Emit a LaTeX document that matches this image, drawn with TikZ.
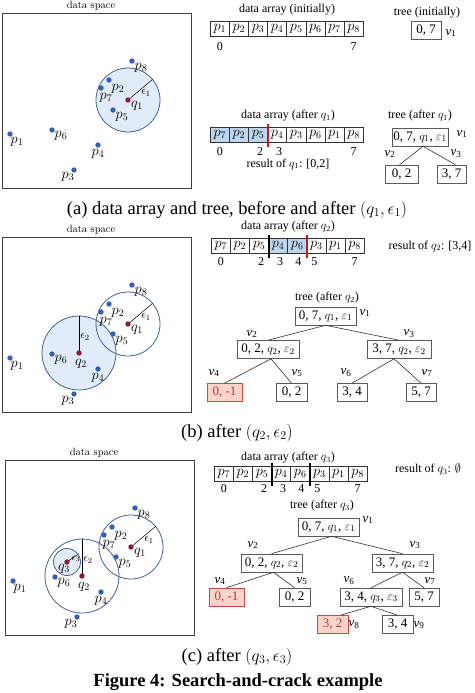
\documentclass[tikz,border=0pt]{standalone}
\usepackage{fontspec}
\setmainfont{Liberation Serif}
\usetikzlibrary{calc}
\definecolor{dotblue}{RGB}{50,95,185}
\definecolor{circfill}{RGB}{226,236,248}
\definecolor{circline}{RGB}{70,95,150}
\definecolor{qred}{RGB}{140,25,55}
\definecolor{cellblue}{RGB}{190,213,238}
\definecolor{redfill}{RGB}{250,212,202}
\definecolor{redline}{RGB}{205,70,70}
\definecolor{cutred}{RGB}{200,25,25}
\definecolor{boxgray}{RGB}{90,90,90}
\newcommand\myfs[1]{\fontsize{#1}{#1}\selectfont}
\newcommand\vv[1]{\textit{v}\textsubscript{\upshape #1}}
\tikzset{
  ptdot/.style={circle, fill=dotblue, inner sep=0pt, minimum size=5.4pt},
  qdot/.style={circle, fill=qred, inner sep=0pt, minimum size=5.4pt},
  mlab/.style={inner sep=0pt, font=\myfs{14.5}},
  elab/.style={inner sep=0pt, font=\myfs{12}},
  spacebox/.style={draw=black!75, line width=0.7pt},
  ring/.style={draw=circline, line width=0.8pt},
  ringfill/.style={ring, fill=circfill},
  radline/.style={draw=black, line width=0.5pt},
  head/.style={inner sep=0pt, font=\myfs{12}},
  dshead/.style={inner sep=0pt, font=\fontfamily{lmr}\myfs{10.5}},
  cell/.style={draw=black!80, line width=0.6pt, minimum width=19.1pt, minimum height=15pt, inner sep=0pt, font=\myfs{14}},
  plain/.style={},
  bluecell/.style={fill=cellblue},
  idx/.style={inner sep=0pt, font=\myfs{12}},
  tbox/.style={draw=boxgray, line width=0.6pt, inner sep=0pt, minimum height=18pt, font=\myfs{13}},
  redbox/.style={tbox, draw=redline, fill=redfill, text=redline!85!black},
  vlab/.style={inner sep=0pt, font=\myfs{13}},
  edge/.style={draw=black!80, line width=0.6pt},
  cutline/.style={line width=1.4pt},
  captext/.style={inner sep=0pt, font=\myfs{18.5}},
}
% array: #1 prefix, #2 left, #3 top, #4 list label/style
\newcommand\myarray[4]{%
  \foreach \lab/\sty [count=\i] in {#4} {
    \node[cell, \sty, anchor=north west] (#1\i) at ({#2+(\i-1)*19.1},#3) {$\lab$};
  }%
}
\newcommand\dbox{%
  \draw[spacebox] (2,13) rectangle (191,188);
  \node[dshead] (dslab) at (91,6) {data space};
}
\newcommand\dpts{%
  \foreach \n/\x/\y/\lx/\ly in {1/10/134/17/142, 2/109/80/118/89, 3/74/170/68/177, 4/98/145/98/154, 5/113/110/122/117, 6/52/130/61/136, 7/101/88/106/98, 8/132/61/141/68} {
    \node[ptdot] (p\n) at (\x,\y) {};
    \node[mlab] (lp\n) at (\lx,\ly) {$p_{\n}$};
  }%
}
\begin{document}
\begin{tikzpicture}[x=1pt,y=-1pt]
\useasboundingbox (0,0) rectangle (474,693);
% ================= panel (a) =================
\begin{scope}[name prefix=a-]
  \dbox
  \coordinate (c1) at (128,100);
  \draw[ringfill] (c1) circle[radius=32];
  \coordinate (e1) at ($(c1)+(-40:32)$);
  \draw[radline] (c1) -- (e1);
  \dpts
  \node[qdot] (q1) at (c1) {};
  \node[mlab] (lq1) at (137,106) {$q_1$};
  \node[elab] (le1) at (146,93) {$\epsilon_1$};
\end{scope}
% arrays (a)
\node[head] (ha1) at (287,10) {data array (initially)};
\myarray{aa}{210}{21}{p_1/plain,p_2/plain,p_3/plain,p_4/plain,p_5/plain,p_6/plain,p_7/plain,p_8/plain}
\node[idx] (aai0) at (aa1 |- 0,47) {0};
\node[idx] (aai7) at (aa8 |- 0,47) {7};
\node[head] (ht1) at (427,13) {tree (initially)};
\node[tbox, minimum width=30pt] (t0) at (426,30.5) {0, 7};
\node[vlab] (t0v) at (451,33) {\vv{1}};

\node[head] (ha2) at (288,116) {data array (after $q_1$)};
\myarray{ab}{210}{127}{p_7/bluecell,p_2/bluecell,p_5/bluecell,p_4/plain,p_3/plain,p_6/plain,p_1/plain,p_8/plain}
\draw[cutline, cutred] ([yshift=3pt]ab3.north east) -- ([yshift=-4pt]ab3.south east);
\node[idx] (abi0) at (ab1 |- 0,152) {0};
\node[idx] (abi2) at ([xshift=2pt]ab3 |- 0,152) {2};
\node[idx] (abi3) at ([xshift=2pt]ab4 |- 0,152) {3};
\node[idx] (abi7) at (ab8 |- 0,152) {7};
\node[head] (res1) at (288,164) {result of $q_1$: [0,2]};

\node[head] (ht2) at (420,116) {tree (after $q_1$)};
\node[tbox, minimum width=56pt] (ta1) at (420,137) {0, 7, $q_1$, $\varepsilon_1$};
\node[tbox, minimum width=33pt] (ta2) at (401.5,174) {0, 2};
\node[tbox, minimum width=29pt] (ta3) at (451.5,174) {3, 7};
\draw[edge] ([xshift=3pt]ta1.south) -- ([xshift=-2pt]ta2.north);
\draw[edge] ([xshift=3pt]ta1.south) -- ([xshift=4pt]ta3.north);
\node[vlab] (ta1v) at (462,134) {\vv{1}};
\node[vlab] (ta2v) at (390,154) {\vv{2}};
\node[vlab] (ta3v) at (456,154) {\vv{3}};

\node[captext] (capa) at (237,210) {(a) data array and tree, before and after $(q_1,\epsilon_1)$};

% ================= panel (b) =================
\begin{scope}[shift={(0,224)}, name prefix=b-]
  \dbox
  \coordinate (c1) at (128,100);
  \coordinate (c2) at (79,129);
  \draw[ringfill] (c2) circle[radius=37];
  \draw[ring] (c1) circle[radius=32];
  \coordinate (e1) at ($(c1)+(-40:32)$);
  \coordinate (e2) at ($(c2)+(-90:37)$);
  \draw[radline] (c1) -- (e1);
  \draw[radline] (c2) -- (e2);
  \dpts
  \node[qdot] (q1) at (c1) {};
  \node[qdot] (q2) at (c2) {};
  \node[mlab] (lq1) at (137,106) {$q_1$};
  \node[mlab] (lq2) at (81,140) {$q_2$};
  \node[elab] (le1) at (146,93) {$\epsilon_1$};
  \node[elab] (le2) at (85,113) {$\epsilon_2$};
\end{scope}
\node[head] (hb1) at (288,227) {data array (after $q_2$)};
\myarray{ba}{211}{238}{p_7/plain,p_2/plain,p_5/plain,p_4/bluecell,p_6/bluecell,p_3/plain,p_1/plain,p_8/plain}
\draw[cutline, black] ([yshift=3pt]ba3.north east) -- ([yshift=-4pt]ba3.south east);
\draw[cutline, cutred] ([yshift=3pt]ba5.north east) -- ([yshift=-4pt]ba5.south east);
\node[idx] (bai0) at (ba1 |- 0,262) {0};
\node[idx] (bai2) at ([xshift=2pt]ba3 |- 0,262) {2};
\node[idx] (bai3) at ([xshift=2pt]ba4 |- 0,262) {3};
\node[idx] (bai4) at ([xshift=1pt]ba5 |- 0,262) {4};
\node[idx] (bai5) at ([xshift=-2pt]ba6 |- 0,262) {5};
\node[idx] (bai7) at (ba8 |- 0,262) {7};
\node[head] (res2) at (430,246) {result of $q_2$: [3,4]};
\node[head] (hbt) at (327,298) {tree (after $q_2$)};
\node[tbox, minimum width=61pt] (tb1) at (325.5,316) {0, 7, $q_1$, $\varepsilon_1$};
\node[tbox, minimum width=62pt] (tb2) at (268,349.5) {0, 2, $q_2$, $\varepsilon_2$};
\node[tbox, minimum width=64pt] (tb3) at (399,349.5) {3, 7, $q_2$, $\varepsilon_2$};
\node[redbox, minimum width=35pt] (tb4) at (224.5,392.5) {0, -1};
\node[tbox, minimum width=31pt] (tb5) at (291.5,392.5) {0, 2};
\node[tbox, minimum width=30pt] (tb6) at (352,392.5) {3, 4};
\node[tbox, minimum width=30pt] (tb7) at (421,392.5) {5, 7};
\draw[edge] (tb1.south) -- (tb2.north);
\draw[edge] (tb1.south) -- (tb3.north);
\draw[edge] ([xshift=3pt]tb2.south) -- (tb4.north);
\draw[edge] ([xshift=3pt]tb2.south) -- (tb5.north);
\draw[edge] ([xshift=-5pt]tb3.south) -- (tb6.north);
\draw[edge] ([xshift=-5pt]tb3.south) -- (tb7.north);
\node[vlab] (tb1v) at (365,313) {\vv{1}};
\node[vlab] (tb2v) at (252,334) {\vv{2}};
\node[vlab] (tb3v) at (409,334) {\vv{3}};
\node[vlab] (tb4v) at (214,373) {\vv{4}};
\node[vlab] (tb5v) at (297,373) {\vv{5}};
\node[vlab] (tb6v) at (346,373) {\vv{6}};
\node[vlab] (tb7v) at (427,373) {\vv{7}};
\node[captext] (capb) at (237,433) {(b) after $(q_2,\epsilon_2)$};

% ================= panel (c) =================
\begin{scope}[shift={(3,447)}, name prefix=c-]
  \dbox
  \coordinate (c1) at (128,100);
  \coordinate (c2) at (79,129);
  \coordinate (c3) at (64,115);
  \draw[ring] (c2) circle[radius=37];
  \draw[ring] (c1) circle[radius=32];
  \draw[ringfill] (c3) circle[radius=13.5];
  \coordinate (e1) at ($(c1)+(-40:32)$);
  \coordinate (e2) at ($(c2)+(-90:37)$);
  \coordinate (e3) at ($(c3)+(-35:13.5)$);
  \draw[radline] (c1) -- (e1);
  \draw[radline] (c2) -- (e2);
  \draw[radline] (c3) -- (e3);
  \dpts
  \node[qdot] (q1) at (c1) {};
  \node[qdot] (q2) at (c2) {};
  \node[qdot] (q3) at (c3) {};
  \node[mlab] (lq1) at (137,106) {$q_1$};
  \node[mlab] (lq2) at (81,140) {$q_2$};
  \node[mlab] (lq3) at (61,122) {$q_3$};
  \node[elab] (le1) at (146,93) {$\epsilon_1$};
  \node[elab] (le2) at (85,113) {$\epsilon_2$};
  \node[elab, font=\myfs{10}] (le3) at (73,112) {$\epsilon_3$};
\end{scope}
\node[head] (hc1) at (288,458) {data array (after $q_3$)};
\myarray{ca}{214}{466}{p_7/plain,p_2/plain,p_5/plain,p_4/plain,p_6/plain,p_3/plain,p_1/plain,p_8/plain}
\draw[cutline, black] ([yshift=3pt]ca3.north east) -- ([yshift=-4pt]ca3.south east);
\draw[cutline, black] ([yshift=3pt]ca5.north east) -- ([yshift=-4pt]ca5.south east);
\node[idx] (cai0) at (ca1 |- 0,489) {0};
\node[idx] (cai2) at ([xshift=2pt]ca3 |- 0,489) {2};
\node[idx] (cai3) at ([xshift=2pt]ca4 |- 0,489) {3};
\node[idx] (cai4) at ([xshift=1pt]ca5 |- 0,489) {4};
\node[idx] (cai5) at ([xshift=-2pt]ca6 |- 0,489) {5};
\node[idx] (cai7) at (ca8 |- 0,489) {7};
\node[head] (res3) at (428,469) {result of $q_3$: $\emptyset$};
\node[head] (hct) at (322,506) {tree (after $q_3$)};
\node[tbox, minimum width=61pt] (tc1) at (328.5,527) {0, 7, $q_1$, $\varepsilon_1$};
\node[tbox, minimum width=61pt] (tc2) at (271.5,563) {0, 2, $q_2$, $\varepsilon_2$};
\node[tbox, minimum width=61pt] (tc3) at (402.5,563) {3, 7, $q_2$, $\varepsilon_2$};
\node[redbox, minimum width=35pt] (tc4) at (226.5,597) {0, -1};
\node[tbox, minimum width=31pt] (tc5) at (294.5,597) {0, 2};
\node[tbox, minimum width=62pt] (tc6) at (371,597) {3, 4, $q_3$, $\varepsilon_3$};
\node[tbox, minimum width=30pt] (tc7) at (424,597) {5, 7};
\node[redbox, minimum width=31pt] (tc8) at (332.5,624.5) {3, 2};
\node[tbox, minimum width=31pt] (tc9) at (397.5,624.5) {3, 4};
\draw[edge] ([xshift=3pt]tc1.south) -- (tc2.north);
\draw[edge] ([xshift=3pt]tc1.south) -- (tc3.north);
\draw[edge] ([xshift=2pt]tc2.south) -- (tc4.north);
\draw[edge] ([xshift=2pt]tc2.south) -- (tc5.north);
\draw[edge] (tc3.south) -- (tc6.north);
\draw[edge] (tc3.south) -- (tc7.north);
\draw[edge] (tc6.south) -- ([xshift=8pt]tc8.north);
\draw[edge] (tc6.south) -- (tc9.north);
\node[vlab] (tc1v) at (368,520) {\vv{1}};
\node[vlab] (tc2v) at (253,545) {\vv{2}};
\node[vlab] (tc3v) at (415,545) {\vv{3}};
\node[vlab] (tc4v) at (220,581) {\vv{4}};
\node[vlab] (tc5v) at (302,581) {\vv{5}};
\node[vlab] (tc6v) at (349,581) {\vv{6}};
\node[vlab] (tc7v) at (430,581) {\vv{7}};
\node[vlab] (tc8v) at (354,625) {\vv{8}};
\node[vlab] (tc9v) at (419,625) {\vv{9}};
\node[captext] (capc) at (237,657) {(c) after $(q_3,\epsilon_3)$};
\node[captext, font=\myfs{18.5}\bfseries] (figcap) at (238,682) {Figure 4: Search-and-crack example};
\end{tikzpicture}
\end{document}
